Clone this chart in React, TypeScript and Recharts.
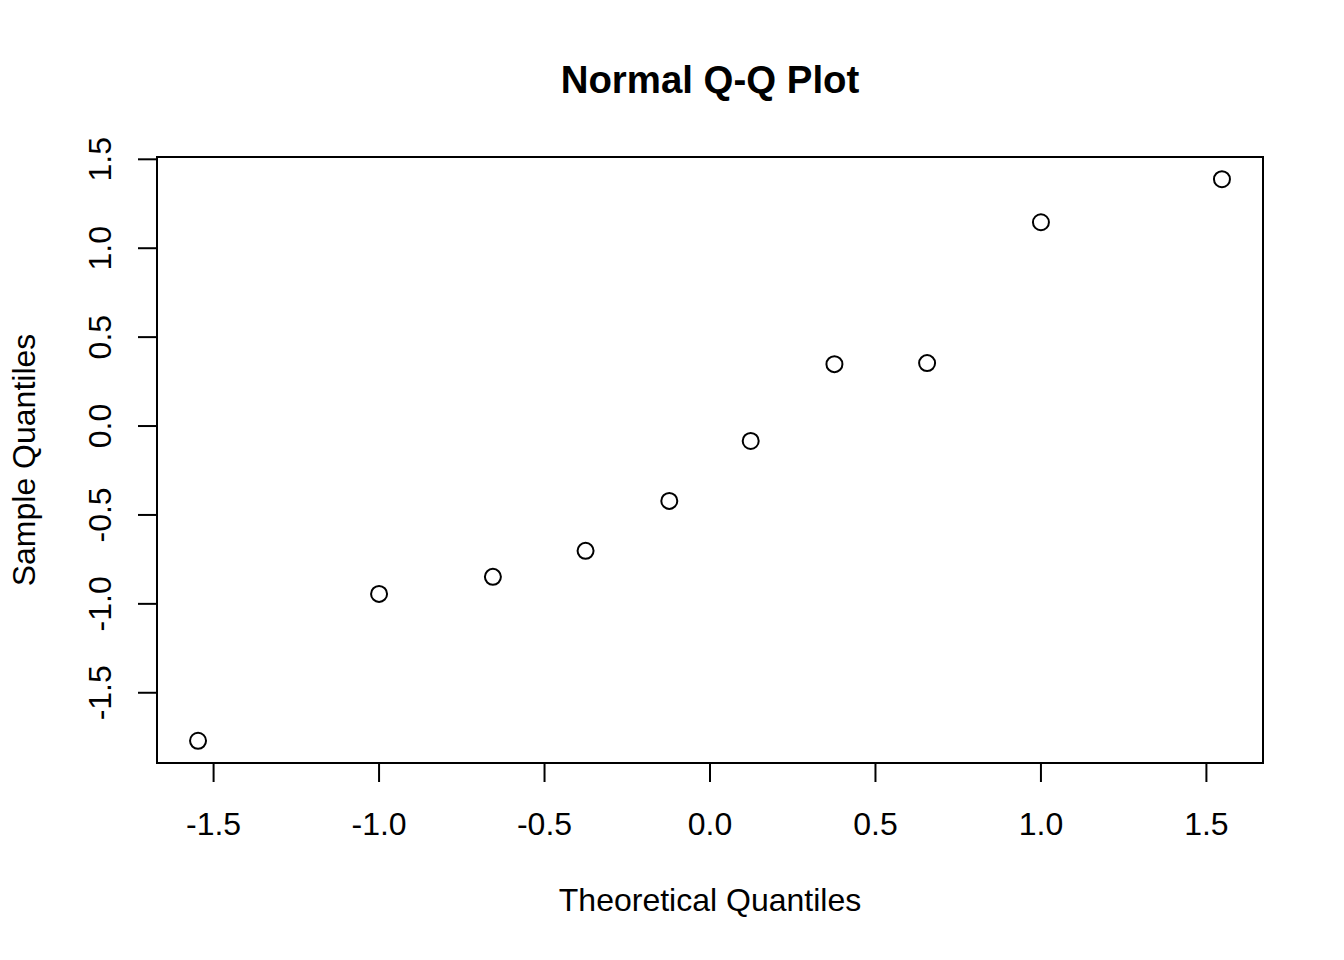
import React from 'react';
import { ScatterChart, Scatter, XAxis, YAxis, ReferenceArea } from 'recharts';

// theoretical quantiles (qnorm of ppoints(10)) and the sample values
const theoretical = [-1.547, -1.0, -0.656, -0.376, -0.123, 0.123, 0.376, 0.656, 1.0, 1.547];
const sample = [-1.77, -0.944, -0.848, -0.702, -0.421, -0.084, 0.348, 0.354, 1.146, 1.388];

const xTicks = [-1.5, -1.0, -0.5, 0.0, 0.5, 1.0, 1.5];
const yTicks = [-1.5, -1.0, -0.5, 0.0, 0.5, 1.0, 1.5];

const xDomain = [-1.671, 1.671];
const yDomain = [-1.895, 1.513];

const points = theoretical.map((x, i) => ({ x, y: sample[i] }));

const FONT = '"Liberation Sans", Arial, Helvetica, sans-serif';

const XTick = (props: any) => {
  const { x, y, payload } = props;
  return (
    <text x={x} y={y + 53} textAnchor="middle" fontSize={32} fontFamily={FONT} fill="#000">
      {Number(payload.value).toFixed(1)}
    </text>
  );
};

const YTick = (props: any) => {
  const { x, y, payload } = props;
  const tx = x - 27;
  return (
    <text
      x={tx}
      y={y}
      transform={`rotate(-90, ${tx}, ${y})`}
      textAnchor="middle"
      fontSize={32}
      fontFamily={FONT}
      fill="#000"
    >
      {Number(payload.value).toFixed(1)}
    </text>
  );
};

const OpenCircle = (props: any) => (
  <circle cx={props.cx} cy={props.cy} r={8} fill="none" stroke="#000" strokeWidth={2} />
);

export default function App() {
  return (
    <div style={{ position: 'relative', width: 1344, height: 960, background: '#fff' }}>
      <style>{'body{margin:0}'}</style>
      <ScatterChart
        width={1344}
        height={960}
        margin={{ top: 157, right: 81, bottom: 137, left: 97 }}
      >
        <XAxis
          type="number"
          dataKey="x"
          domain={xDomain}
          ticks={xTicks}
          allowDataOverflow
          axisLine={false}
          tickLine={{ stroke: '#000', strokeWidth: 2 }}
          tickSize={19}
          tickMargin={0}
          height={60}
          tick={<XTick />}
          interval={0}
        />
        <YAxis
          type="number"
          dataKey="y"
          domain={yDomain}
          ticks={yTicks}
          allowDataOverflow
          axisLine={false}
          tickLine={{ stroke: '#000', strokeWidth: 2 }}
          tickSize={19}
          tickMargin={0}
          width={60}
          tick={<YTick />}
          interval={0}
        />
        <ReferenceArea
          x1={xDomain[0]}
          x2={xDomain[1]}
          y1={yDomain[0]}
          y2={yDomain[1]}
          fill="none"
          fillOpacity={0}
          stroke="#000"
          strokeWidth={2}
          ifOverflow="visible"
        />
        <Scatter data={points} shape={<OpenCircle />} isAnimationActive={false} />
      </ScatterChart>
      <svg
        width={1344}
        height={960}
        style={{ position: 'absolute', left: 0, top: 0, pointerEvents: 'none' }}
      >
        <text x={710} y={93} textAnchor="middle" fontSize={38.4} fontWeight="bold" fontFamily={FONT} fill="#000">
          Normal Q-Q Plot
        </text>
        <text x={710} y={911} textAnchor="middle" fontSize={32} fontFamily={FONT} fill="#000">
          Theoretical Quantiles
        </text>
        <text
          x={35}
          y={460}
          transform="rotate(-90, 35, 460)"
          textAnchor="middle"
          fontSize={32}
          fontFamily={FONT}
          fill="#000"
        >
          Sample Quantiles
        </text>
      </svg>
    </div>
  );
}
